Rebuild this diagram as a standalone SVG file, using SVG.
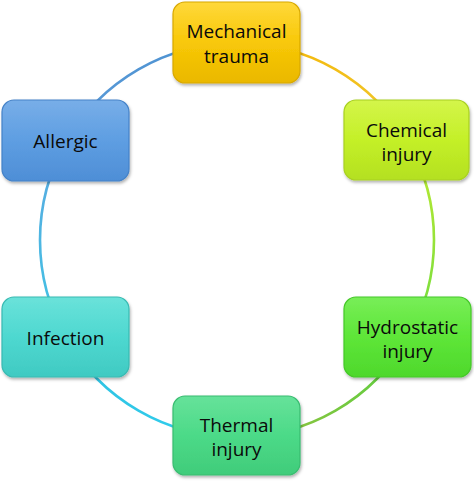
<svg xmlns="http://www.w3.org/2000/svg" width="474" height="481" viewBox="0 0 474 481">
<style>
.arc{fill:none;stroke-width:2.6}
.box{stroke-width:1.2;filter:url(#sh)}
.lbl{font-family:"Open Sans","Noto Sans",sans-serif;font-size:19px;fill:#0a0a0a;text-anchor:middle}
</style>
<defs>
<filter id="sh" x="-10%" y="-10%" width="125%" height="130%">
<feDropShadow dx="1" dy="2" stdDeviation="1.5" flood-color="#000" flood-opacity="0.3"/>
</filter>
<linearGradient id="gMech" x1="0" y1="0" x2="0" y2="1"><stop offset="0" stop-color="#FFD83A"/><stop offset="0.5" stop-color="#F8C808"/><stop offset="1" stop-color="#EAB800"/></linearGradient>
<linearGradient id="gChem" x1="0" y1="0" x2="0" y2="1"><stop offset="0" stop-color="#D4F54A"/><stop offset="0.5" stop-color="#C4F028"/><stop offset="1" stop-color="#B4E020"/></linearGradient>
<linearGradient id="gHyd" x1="0" y1="0" x2="0" y2="1"><stop offset="0" stop-color="#78EE58"/><stop offset="0.5" stop-color="#5EE638"/><stop offset="1" stop-color="#4ED82C"/></linearGradient>
<linearGradient id="gTh" x1="0" y1="0" x2="0" y2="1"><stop offset="0" stop-color="#66E29A"/><stop offset="0.5" stop-color="#4CDA88"/><stop offset="1" stop-color="#40CC7A"/></linearGradient>
<linearGradient id="gInf" x1="0" y1="0" x2="0" y2="1"><stop offset="0" stop-color="#6AE2DA"/><stop offset="0.5" stop-color="#4ED8D0"/><stop offset="1" stop-color="#40CAC2"/></linearGradient>
<linearGradient id="gAll" x1="0" y1="0" x2="0" y2="1"><stop offset="0" stop-color="#78AEE8"/><stop offset="0.5" stop-color="#5E9EE2"/><stop offset="1" stop-color="#4E8ED6"/></linearGradient>
<linearGradient id="a1" gradientUnits="userSpaceOnUse" x1="237" y1="43" x2="407" y2="141"><stop offset="0" stop-color="#F5B400"/><stop offset="1" stop-color="#F0C830"/></linearGradient>
<linearGradient id="a2" gradientUnits="userSpaceOnUse" x1="407" y1="141" x2="407" y2="338"><stop offset="0" stop-color="#C0EA30"/><stop offset="1" stop-color="#6EDC40"/></linearGradient>
<linearGradient id="a3" gradientUnits="userSpaceOnUse" x1="407" y1="338" x2="237" y2="437"><stop offset="0" stop-color="#58D040"/><stop offset="1" stop-color="#98C040"/></linearGradient>
<linearGradient id="a4" gradientUnits="userSpaceOnUse" x1="237" y1="437" x2="66" y2="338"><stop offset="0" stop-color="#30D0F0"/><stop offset="1" stop-color="#30C0E0"/></linearGradient>
<linearGradient id="a5" gradientUnits="userSpaceOnUse" x1="66" y1="338" x2="66" y2="141"><stop offset="0" stop-color="#40C4E4"/><stop offset="1" stop-color="#5AA8E0"/></linearGradient>
<linearGradient id="a6" gradientUnits="userSpaceOnUse" x1="66" y1="141" x2="237" y2="43"><stop offset="0" stop-color="#5B9BD8"/><stop offset="1" stop-color="#4A90D0"/></linearGradient>
</defs>
<g id="connectors">
<path class="arc" stroke="url(#a1)" d="M237,43 A197,197 0 0 1 407.6,141.5"/>
<path class="arc" stroke="url(#a2)" d="M407.6,141.5 A197,197 0 0 1 407.6,338.5"/>
<path class="arc" stroke="url(#a3)" d="M407.6,338.5 A197,197 0 0 1 237,437"/>
<path class="arc" stroke="url(#a4)" d="M237,437 A197,197 0 0 1 66.4,338.5"/>
<path class="arc" stroke="url(#a5)" d="M66.4,338.5 A197,197 0 0 1 66.4,141.5"/>
<path class="arc" stroke="url(#a6)" d="M66.4,141.5 A197,197 0 0 1 237,43"/>
</g>
<g id="mechanical">
<rect class="box" x="173" y="2" width="127" height="81" rx="12" fill="url(#gMech)" stroke="#D8A800"/>
<text class="lbl" x="236.5" y="38">Mechanical</text>
<text class="lbl" x="236.5" y="63">trauma</text>
</g>
<g id="chemical">
<rect class="box" x="344" y="100" width="125" height="80" rx="12" fill="url(#gChem)" stroke="#A8D020"/>
<text class="lbl" x="406.5" y="137">Chemical</text>
<text class="lbl" x="406.5" y="161">injury</text>
</g>
<g id="hydrostatic">
<rect class="box" x="344" y="297" width="127" height="80" rx="12" fill="url(#gHyd)" stroke="#44C828"/>
<text class="lbl" x="407.5" y="334">Hydrostatic</text>
<text class="lbl" x="407.5" y="358">injury</text>
</g>
<g id="thermal">
<rect class="box" x="173" y="396" width="127" height="79" rx="12" fill="url(#gTh)" stroke="#38BC70"/>
<text class="lbl" x="236.5" y="432">Thermal</text>
<text class="lbl" x="236.5" y="456">injury</text>
</g>
<g id="infection">
<rect class="box" x="2" y="297" width="127" height="80" rx="12" fill="url(#gInf)" stroke="#38BAB2"/>
<text class="lbl" x="65.5" y="345">Infection</text>
</g>
<g id="allergic">
<rect class="box" x="2" y="100" width="127" height="81" rx="12" fill="url(#gAll)" stroke="#4482C8"/>
<text class="lbl" x="65.5" y="148">Allergic</text>
</g>
</svg>
